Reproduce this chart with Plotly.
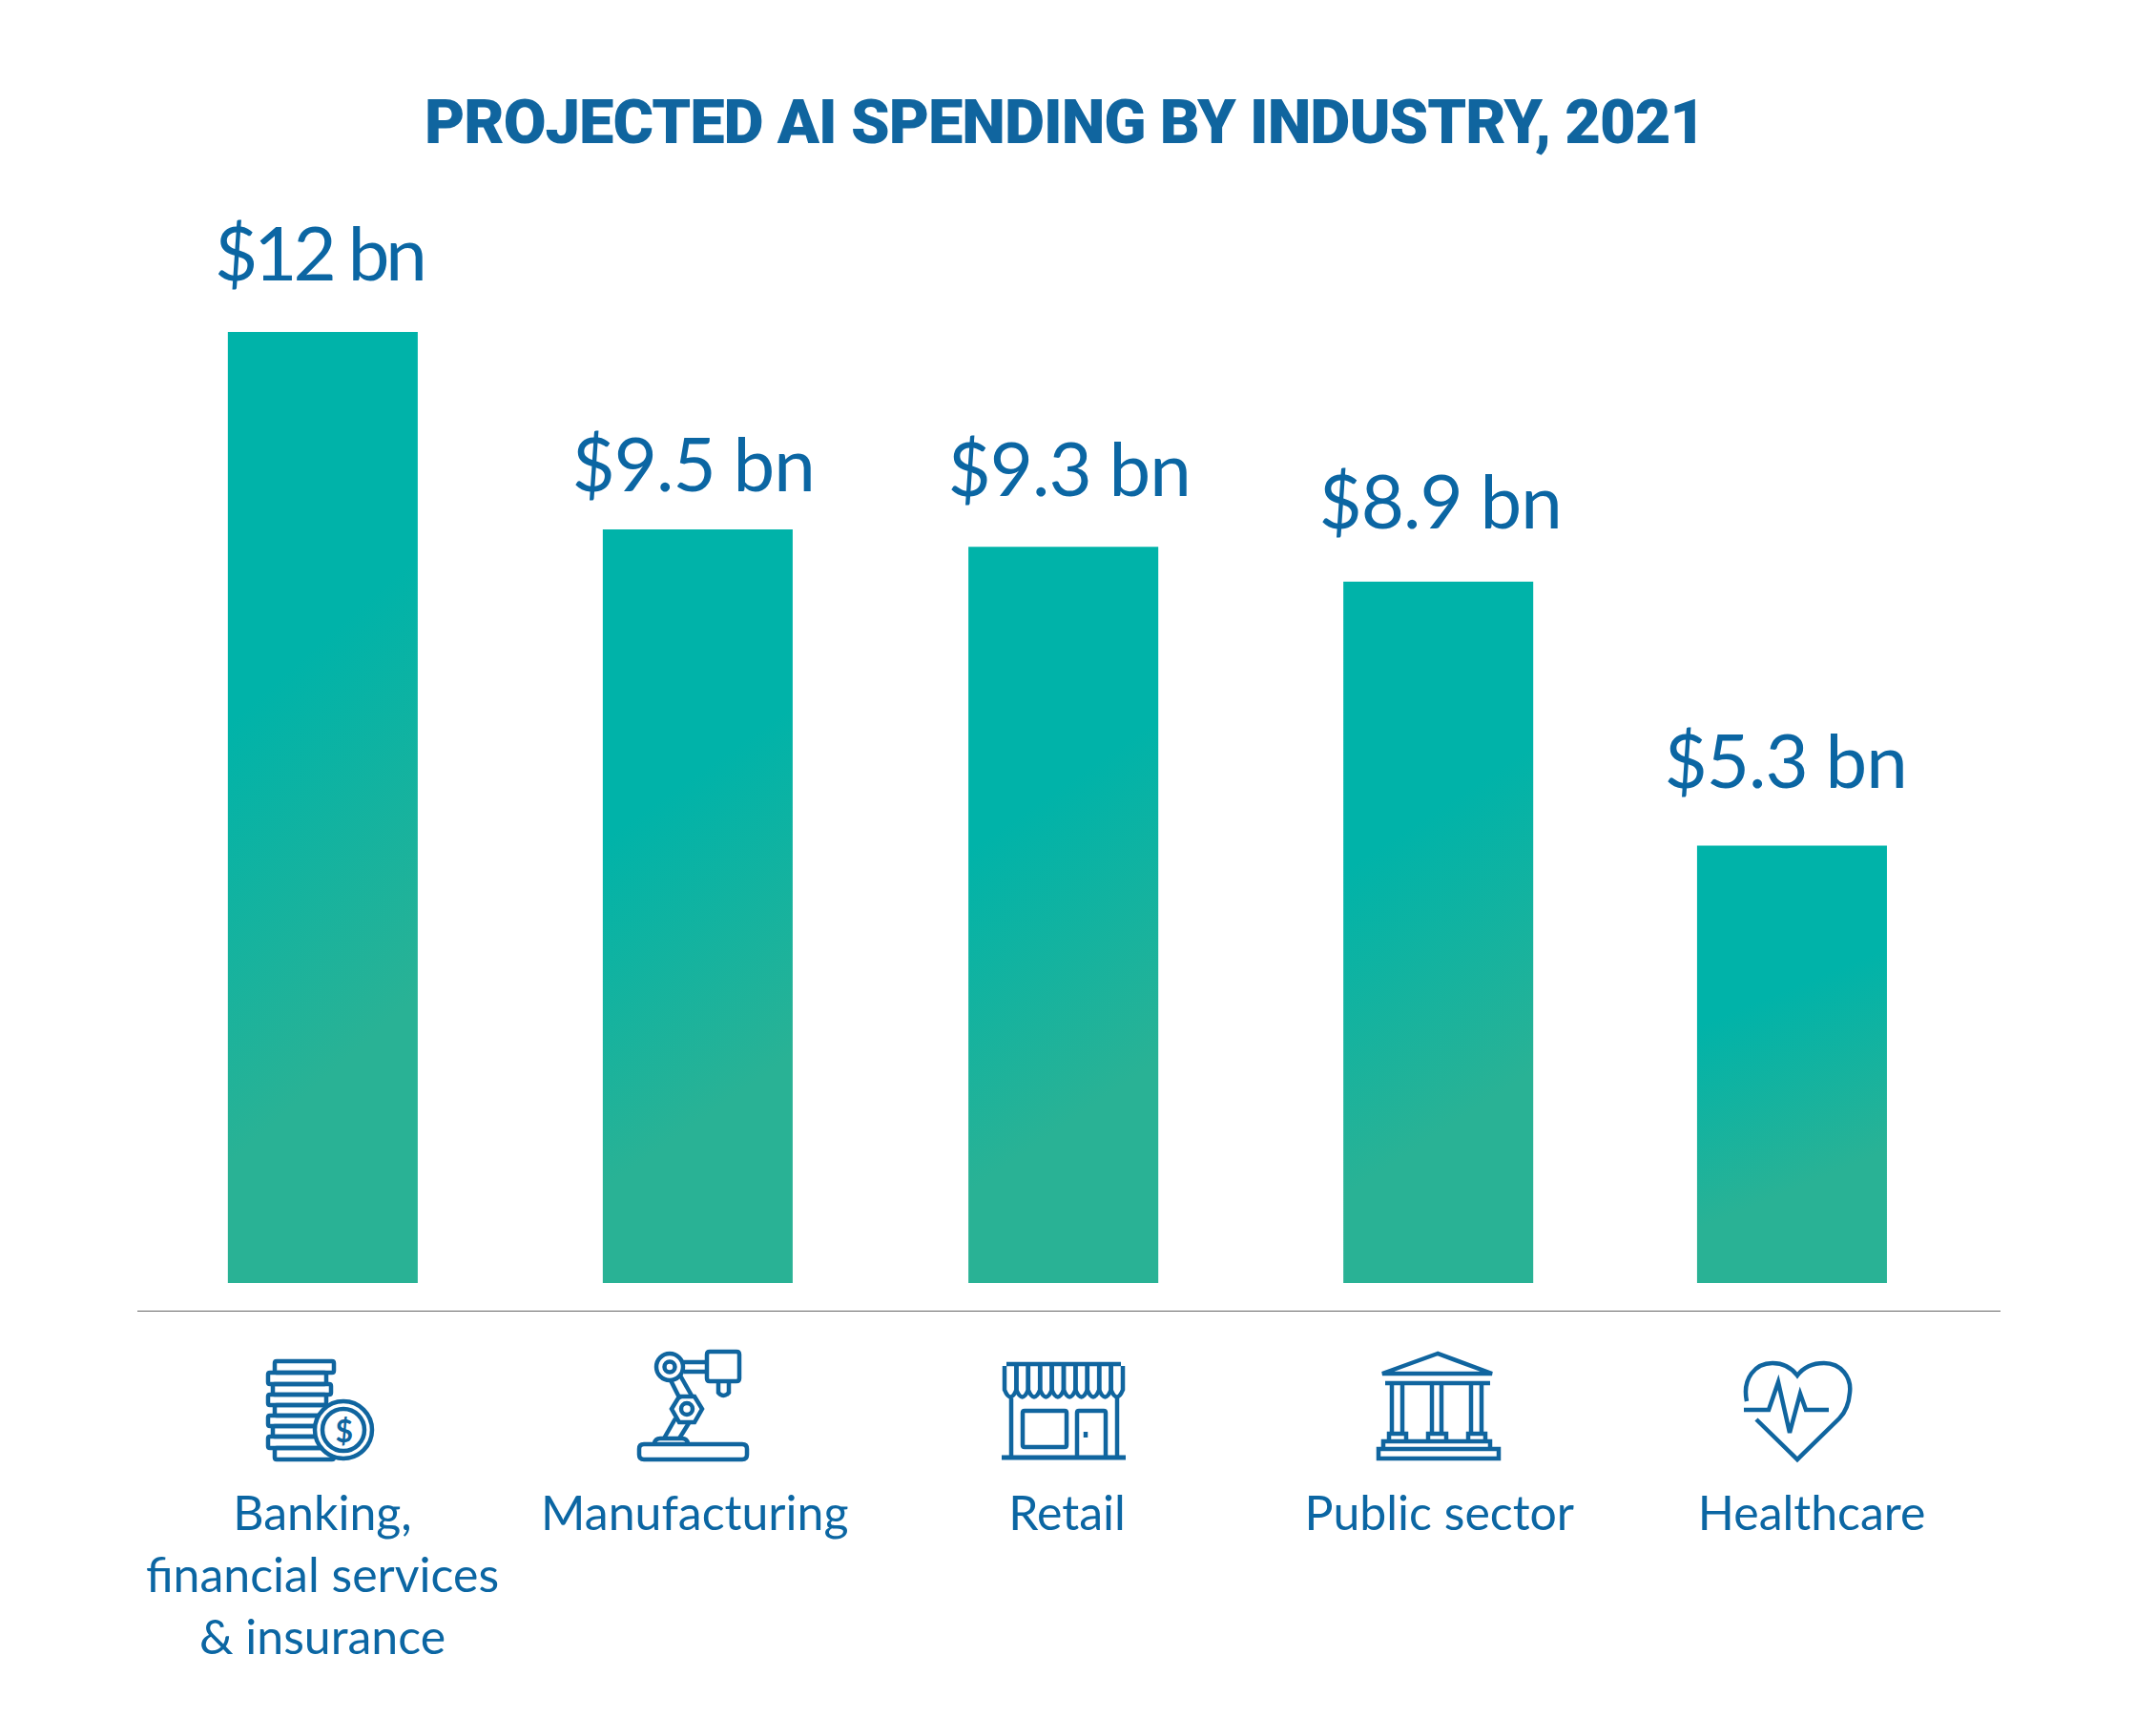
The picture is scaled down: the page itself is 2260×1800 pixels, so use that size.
import plotly.graph_objects as go

categories = ['Banking, financial services & insurance', 'Manufacturing', 'Retail', 'Public sector', 'Healthcare']
tick_labels = ['Banking,<br>financial services<br>& insurance', 'Manufacturing', 'Retail', 'Public sector', 'Healthcare']
bar_values = [12, 9.51, 9.29, 8.85, 5.52]
value_labels = ['$12 bn', '$9.5 bn', '$9.3 bn', '$8.9 bn', '$5.3 bn']

# the bars and their labels sit a little off the evenly spaced ticks
bar_nudge = [0.001, 0.008, -0.010, -0.003, -0.053]
label_xshift = [-3, -2, 2, 1, -28]
label_yshift = [35, 21, 34, 37, 41]

BLUE = '#10659F'
TEXT_BLUE = '#0B66A3'
LIGHT_FONT = 'Lato'
BAR_WIDTH = 0.51

# plot area in page pixels, the icons are placed with these
LEFT, RIGHT, TOP, BOTTOM = 144, 2097, 100, 1374


def pt(x, y):
    return f'{(x - LEFT) / (RIGHT - LEFT):.5f},{(BOTTOM - y) / (BOTTOM - TOP):.5f}'


def poly(points, closed=False):
    path = 'M' + ' L'.join(pt(*p) for p in points)
    return path + ' Z' if closed else path


def rrect(x0, y0, x1, y1, r=2):
    return (f'M{pt(x0 + r, y0)} L{pt(x1 - r, y0)} Q{pt(x1, y0)} {pt(x1, y0 + r)} '
            f'L{pt(x1, y1 - r)} Q{pt(x1, y1)} {pt(x1 - r, y1)} '
            f'L{pt(x0 + r, y1)} Q{pt(x0, y1)} {pt(x0, y1 - r)} '
            f'L{pt(x0, y0 + r)} Q{pt(x0, y0)} {pt(x0 + r, y0)} Z')


def circle(cx, cy, r):
    k = 0.5523 * r
    return (f'M{pt(cx - r, cy)} C{pt(cx - r, cy - k)} {pt(cx - k, cy - r)} {pt(cx, cy - r)} '
            f'C{pt(cx + k, cy - r)} {pt(cx + r, cy - k)} {pt(cx + r, cy)} '
            f'C{pt(cx + r, cy + k)} {pt(cx + k, cy + r)} {pt(cx, cy + r)} '
            f'C{pt(cx - k, cy + r)} {pt(cx - r, cy + k)} {pt(cx - r, cy)} Z')


def stroke(path, fill=None, width=4.5):
    return dict(type='path', xref='paper', yref='paper', path=path, layer='above',
                line=dict(color=BLUE, width=width), fillcolor=fill or 'rgba(0,0,0,0)')


def coins_icon():
    rows = [(288, 1427, 350, 1439), (281, 1439, 342, 1451), (286, 1451, 347, 1462),
            (281, 1462, 342, 1473), (288, 1473, 342, 1484), (281, 1484, 342, 1495),
            (286, 1495, 342, 1506), (281, 1506, 342, 1518), (288, 1518, 350, 1530)]
    shapes = [stroke(rrect(*r)) for r in rows]
    shapes.append(stroke(circle(360, 1499, 30), fill='white'))
    shapes.append(stroke(circle(360, 1499, 22)))
    return shapes


def robot_icon():
    return [
        stroke(rrect(670, 1514, 783, 1530, 5)),
        stroke(f'M{pt(686, 1513)} Q{pt(687, 1508)} {pt(692, 1508)} L{pt(715, 1508)} Q{pt(720, 1508)} {pt(721, 1513)}'),
        stroke(poly([(708, 1487), (696, 1508)])),
        stroke(poly([(722, 1492), (712, 1508)])),
        stroke(poly([(704, 1477), (712, 1464), (728, 1464), (736, 1477), (728, 1491), (712, 1491)], True)),
        stroke(circle(720, 1477, 6)),
        stroke(poly([(703, 1447), (713, 1467)])),
        stroke(poly([(713, 1442), (725, 1463)])),
        stroke(circle(702, 1433, 14)),
        stroke(circle(702, 1433, 5.5)),
        stroke(poly([(715, 1428), (741, 1428)])),
        stroke(poly([(717, 1438), (741, 1438)])),
        stroke(rrect(741, 1417, 775, 1448, 3)),
        stroke(f'M{pt(753, 1448)} L{pt(753, 1460)} Q{pt(758.5, 1466)} {pt(764, 1460)} L{pt(764, 1448)}'),
    ]


def shop_icon():
    shapes = [stroke(poly([(1055, 1430), (1175, 1430)]))]
    for i in range(10):
        x0 = 1053 + 12.4 * i
        x1 = x0 + 12.4
        shapes.append(stroke(f'M{pt(x0, 1432)} L{pt(x0, 1457)} Q{pt((x0 + x1) / 2, 1472)} {pt(x1, 1457)} L{pt(x1, 1432)}'))
    shapes += [
        stroke(poly([(1060, 1466), (1060, 1528)])),
        stroke(poly([(1171, 1466), (1171, 1528)])),
        stroke(poly([(1050, 1528), (1180, 1528)]), width=5),
        stroke(rrect(1072, 1479, 1118, 1517)),
        stroke(f'M{pt(1129, 1528)} L{pt(1129, 1481)} Q{pt(1129, 1479)} {pt(1131, 1479)} L{pt(1157, 1479)} Q{pt(1159, 1479)} {pt(1159, 1481)} L{pt(1159, 1528)}'),
        stroke(poly([(1138, 1501), (1138, 1507)])),
    ]
    return shapes


def bank_icon():
    shapes = [
        stroke(poly([(1507, 1419), (1449, 1440), (1564, 1440)], True)),
        stroke(poly([(1452, 1450), (1562, 1450)])),
    ]
    for left, right, base0, base1 in [(1459, 1470, 1456, 1474), (1501, 1511, 1497, 1516), (1542, 1553, 1539, 1557)]:
        shapes.append(stroke(poly([(left, 1451), (left, 1503)])))
        shapes.append(stroke(poly([(right, 1451), (right, 1503)])))
        shapes.append(stroke(poly([(base0, 1510), (base0, 1503), (base1, 1503), (base1, 1510)])))
    shapes.append(stroke(poly([(1450, 1519), (1450, 1511), (1562, 1511), (1562, 1519)])))
    shapes.append(stroke(poly([(1445, 1519), (1571, 1519), (1571, 1529), (1445, 1529)], True)))
    return shapes


def heart_icon():
    outline = (f'M{pt(1831, 1469)} C{pt(1826, 1445)} {pt(1840, 1429)} {pt(1858, 1429)} '
               f'C{pt(1870, 1429)} {pt(1878, 1434)} {pt(1884, 1442)} '
               f'C{pt(1890, 1434)} {pt(1898, 1429)} {pt(1912, 1429)} '
               f'C{pt(1930, 1429)} {pt(1941, 1444)} {pt(1939, 1460)} '
               f'C{pt(1938, 1472)} {pt(1934, 1481)} {pt(1928, 1487)} '
               f'L{pt(1884, 1530)} L{pt(1841, 1488)}')
    pulse = [(1828, 1478), (1854, 1478), (1864, 1449), (1876, 1502), (1887, 1461), (1893, 1478), (1917, 1478)]
    return [stroke(outline), stroke(poly(pulse))]


fig = go.Figure(go.Bar(
    x=categories,
    y=bar_values,
    width=BAR_WIDTH,
    offset=[n - BAR_WIDTH / 2 for n in bar_nudge],
    marker=dict(color='#14B3A0', line=dict(width=0)),
    hoverinfo='skip',
))

for category, value, label, dx, dy in zip(categories, bar_values, value_labels, label_xshift, label_yshift):
    fig.add_annotation(x=category, y=value, text=label, showarrow=False, yanchor='bottom',
                       xshift=dx, yshift=dy, font=dict(family=LIGHT_FONT, size=78, color=TEXT_BLUE))

# dollar sign on the coin
fig.add_annotation(xref='paper', yref='paper', x=(360 - LEFT) / (RIGHT - LEFT), y=(BOTTOM - 1499) / (BOTTOM - TOP),
                   xanchor='center', yanchor='middle',
                   text='$', showarrow=False, font=dict(family=LIGHT_FONT, size=32, color=BLUE, weight=700))

fig.update_layout(
    width=2260,
    height=1800,
    template='none',
    showlegend=False,
    paper_bgcolor='white',
    plot_bgcolor='white',
    margin=dict(l=LEFT, r=2260 - RIGHT, t=TOP, b=1800 - BOTTOM, pad=0),
    title=dict(
        text='PROJECTED AI SPENDING BY INDUSTRY, 2021',
        x=1116 / 2260,
        xanchor='center',
        y=1 - 127 / 1800,
        yanchor='middle',
        font=dict(family='Roboto', size=65, color=BLUE, weight=900),
    ),
    xaxis=dict(
        type='category',
        categoryorder='array',
        categoryarray=categories,
        tickmode='array',
        tickvals=categories,
        ticktext=tick_labels,
        range=[-0.497, 4.507],
        showgrid=False,
        zeroline=False,
        showline=True,
        linecolor='#666666',
        linewidth=1.2,
        ticks='outside',
        ticklen=169,
        tickwidth=1,
        tickcolor='rgba(0,0,0,0)',
        tickangle=0,
        automargin=False,
        tickfont=dict(family=LIGHT_FONT, size=50, color=TEXT_BLUE),
    ),
    yaxis=dict(range=[-0.349, 14.985], visible=False, automargin=False),
    shapes=coins_icon() + robot_icon() + shop_icon() + bank_icon() + heart_icon(),
)

# plotly bars only take flat colours, so the teal to green fade goes in after the plot is drawn
gradient_script = """
document.body.style.margin = '0';
var gd = document.getElementById('{plot_id}');
var svg = gd.querySelector('.main-svg');
var defs = document.createElementNS('http://www.w3.org/2000/svg', 'defs');
defs.innerHTML = '<linearGradient id="barFade" x1="0.46" y1="0.33" x2="0.54" y2="0.78">' +
    '<stop offset="0" stop-color="#00B3A9"/><stop offset="1" stop-color="#29B295"/></linearGradient>';
svg.insertBefore(defs, svg.firstChild);
gd.querySelectorAll('.barlayer .point path').forEach(function (p) { p.style.fill = 'url(#barFade)'; });
gd.querySelector('.gtitle').style.letterSpacing = '-1px';
gd.querySelectorAll('.annotation-text').forEach(function (t) {
    t.style.letterSpacing = t.textContent === '$12 bn' ? '-4px' : '-1px';
});
"""

fig.write_html("out.html", post_script=gradient_script, config=dict(displayModeBar=False))
